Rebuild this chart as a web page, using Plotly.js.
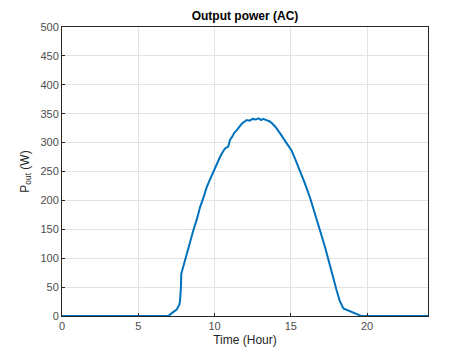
<!DOCTYPE html>
<html>
<head>
<meta charset="utf-8">
<script src="https://cdn.plot.ly/plotly-3.0.1.min.js"></script>
<style>html,body{margin:0;padding:0;background:#fff;}#chart{width:474px;height:355px;}</style>
</head>
<body>
<div id="chart"></div>
<script>
var timeHours = [0, 1, 2, 3, 4, 5, 6, 6.97, 7.2, 7.52, 7.7, 7.74, 7.8, 7.82, 8.0, 8.18, 8.4, 8.61, 8.85, 9.05, 9.3, 9.49, 9.7, 9.92, 10.1, 10.36, 10.5, 10.69, 10.9, 11.02, 11.13, 11.3, 11.45, 11.6, 11.8, 12.0, 12.11, 12.3, 12.5, 12.7, 12.9, 13.05, 13.2, 13.4, 13.6, 13.75, 14.0, 14.3, 14.6, 14.85, 15.06, 15.3, 15.6, 15.9, 16.26, 16.6, 16.92, 17.25, 17.57, 17.8, 18.01, 18.2, 18.45, 18.8, 19.1, 19.54, 19.7, 20, 21, 22, 23, 24];
var powerW = [0, 0, 0, 0, 0, 0, 0, 0, 5, 11, 20, 27, 50, 73, 90, 108, 128, 148, 168, 188, 207, 223, 236, 249, 262, 275, 282, 290, 293, 305, 309, 317, 321, 327, 333, 337, 339, 338, 341, 340, 342, 339, 341, 339, 337, 334, 327, 316, 305, 295, 286, 271, 252, 231, 205, 177, 148, 119, 90, 65, 44, 27, 13, 9, 5, 1, 0, 0, 0, 0, 0, 0];

var trace = {
  x: timeHours,
  y: powerW,
  type: 'scatter',
  mode: 'lines',
  line: {color: '#0072BD', width: 2},
  hoverinfo: 'skip'
};

var axisCommon = {
  showline: true,
  linecolor: '#262626',
  linewidth: 1,
  mirror: true,
  ticks: 'inside',
  ticklen: 3,
  tickcolor: '#262626',
  showgrid: true,
  gridcolor: '#e3e3e3',
  gridwidth: 1,
  zeroline: false,
  tickfont: {family: 'Liberation Sans, Arial, sans-serif', size: 11, color: '#4d4d4d'}
};

var layout = {
  width: 474,
  height: 355,
  margin: {l: 62, r: 46, t: 27, b: 39},
  paper_bgcolor: '#ffffff',
  plot_bgcolor: '#ffffff',
  showlegend: false,
  title: {
    text: '<b>Output power (AC)</b>',
    font: {family: 'Liberation Sans, Arial, sans-serif', size: 12, color: '#000000'},
    x: 0.5, xref: 'paper', xanchor: 'center',
    y: 0.955, yref: 'container', yanchor: 'middle'
  },
  xaxis: Object.assign({}, axisCommon, {
    range: [0, 24],
    tickvals: [0, 5, 10, 15, 20],
    ticktext: ['0', '5', '10', '15', '20'],
    title: {text: 'Time (Hour)', font: {family: 'Liberation Sans, Arial, sans-serif', size: 12, color: '#262626'}, standoff: 4}
  }),
  yaxis: Object.assign({}, axisCommon, {
    range: [0, 500],
    tickvals: [0, 50, 100, 150, 200, 250, 300, 350, 400, 450, 500],
    title: {text: 'P<sub>out</sub> (W)', font: {family: 'Liberation Sans, Arial, sans-serif', size: 12, color: '#262626'}, standoff: 8}
  })
};

Plotly.newPlot('chart', [trace], layout, {displayModeBar: false, staticPlot: true});
</script>
</body>
</html>
